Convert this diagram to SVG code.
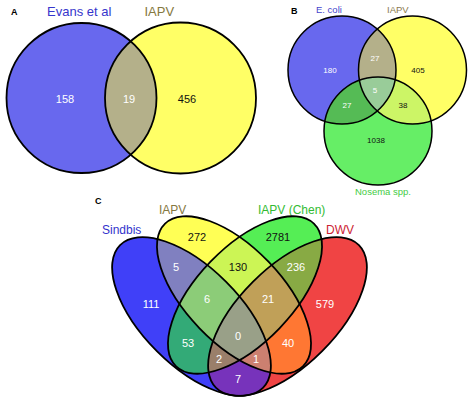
<svg xmlns="http://www.w3.org/2000/svg" xmlns:xlink="http://www.w3.org/1999/xlink" width="474" height="397" viewBox="0 0 474 397">
<style>
text{font-family:"Liberation Sans",Arial,sans-serif}
.pl{font-size:9px;font-weight:bold;fill:#000}
.lab{font-size:13px}
.labB{font-size:9.5px}
.labC{font-size:12px}
.nA{font-size:11px;text-anchor:middle}
.nB{font-size:8px;text-anchor:middle}
.nC{font-size:11px;text-anchor:middle}
.w{fill:#fff}
.k{fill:#111}
.ol{fill:none;stroke:#000;stroke-width:1.8}
.olB{fill:none;stroke:#000;stroke-width:1.5}
</style>
<defs>
<clipPath id="cA1"><circle cx="81.5" cy="98" r="75"/></clipPath>
<clipPath id="cB1"><circle cx="342" cy="70" r="54"/></clipPath>
<clipPath id="cB2"><circle cx="412.5" cy="70" r="54"/></clipPath>
<clipPath id="cB3"><circle cx="378" cy="131" r="54"/></clipPath>
<ellipse id="eS" cx="191.5" cy="316.5" rx="101" ry="49" transform="rotate(45 191.5 316.5)"/>
<ellipse id="eI" cx="234" cy="295" rx="99.2" ry="47.9" transform="rotate(46 234 295)"/>
<ellipse id="eC" cx="245" cy="295" rx="99.2" ry="47.9" transform="rotate(-46 245 295)"/>
<ellipse id="eD" cx="287.5" cy="316.5" rx="101" ry="49" transform="rotate(-45 287.5 316.5)"/>
<clipPath id="kS"><ellipse cx="191.5" cy="316.5" rx="101" ry="49" transform="rotate(45 191.5 316.5)"/></clipPath>
<clipPath id="kI"><ellipse cx="234" cy="295" rx="99.2" ry="47.9" transform="rotate(46 234 295)"/></clipPath>
<clipPath id="kC"><ellipse cx="245" cy="295" rx="99.2" ry="47.9" transform="rotate(-46 245 295)"/></clipPath>
<clipPath id="kD"><ellipse cx="287.5" cy="316.5" rx="101" ry="49" transform="rotate(-45 287.5 316.5)"/></clipPath>
</defs>
<rect width="474" height="397" fill="#fff"/>

<g id="panelA">
  <text class="pl" x="11" y="15">A</text>
  <g id="A-evans">
    <circle cx="81.5" cy="98" r="75" fill="#6868ee"/>
    <text class="lab" x="47" y="16" fill="#3636cc">Evans et al</text>
  </g>
  <g id="A-iapv">
    <circle cx="180.5" cy="98" r="75.5" fill="#ffff66"/>
    <circle cx="180.5" cy="98" r="75.5" fill="#b4b08a" clip-path="url(#cA1)"/>
    <text class="lab" x="144.5" y="16" fill="#857840">IAPV</text>
  </g>
  <circle class="ol" cx="81.5" cy="98" r="75"/>
  <circle class="ol" cx="180.5" cy="98" r="75.5"/>
  <text class="nA w" x="65" y="103">158</text>
  <text class="nA w" x="129" y="103">19</text>
  <text class="nA k" x="187" y="103">456</text>
</g>

<g id="panelB">
  <text class="pl" x="291" y="14">B</text>
  <g id="B-ecoli">
    <circle cx="342" cy="70" r="54" fill="#6868ee"/>
    <text class="labB" x="316" y="12.5" fill="#4444cc">E. coli</text>
  </g>
  <g id="B-iapv">
    <circle cx="412.5" cy="70" r="54" fill="#ffff66"/>
    <text class="labB" x="387" y="12.5" fill="#8a7a50">IAPV</text>
  </g>
  <g id="B-nosema">
    <circle cx="378" cy="131" r="54" fill="#66ee66"/>
    <text class="labB" x="355" y="195" fill="#44cc44">Nosema spp.</text>
  </g>
  <circle cx="412.5" cy="70" r="54" fill="#b4b08a" clip-path="url(#cB1)"/>
  <circle cx="378" cy="131" r="54" fill="#55bb55" clip-path="url(#cB1)"/>
  <circle cx="378" cy="131" r="54" fill="#ccf566" clip-path="url(#cB2)"/>
  <g clip-path="url(#cB1)"><circle cx="378" cy="131" r="54" fill="#99cc99" clip-path="url(#cB2)"/></g>
  <circle class="olB" cx="342" cy="70" r="54"/>
  <circle class="olB" cx="412.5" cy="70" r="54"/>
  <circle class="olB" cx="378" cy="131" r="54"/>
  <text class="nB w" x="330" y="73">180</text>
  <text class="nB w" x="375" y="61">27</text>
  <text class="nB k" x="418" y="73">405</text>
  <text class="nB w" x="375" y="93">5</text>
  <text class="nB w" x="347" y="108">27</text>
  <text class="nB k" x="403" y="108">38</text>
  <text class="nB k" x="376" y="143">1038</text>
</g>

<g id="panelC">
  <text class="pl" x="95" y="204">C</text>
  <g id="C-sindbis"><use xlink:href="#eS" fill="#4040f8"/><text class="labC" x="102" y="234" fill="#3333cc">Sindbis</text></g>
  <g id="C-iapv"><use xlink:href="#eI" fill="#ffff55"/><text class="labC" x="159" y="214" fill="#857840">IAPV</text></g>
  <g id="C-chen"><use xlink:href="#eC" fill="#55ee55"/><text class="labC" x="258" y="214" fill="#33bb33">IAPV (Chen)</text></g>
  <g id="C-dwv"><use xlink:href="#eD" fill="#f04444"/><text class="labC" x="326" y="234" fill="#cc2233">DWV</text></g>
  <g id="C-overlaps">
    <use xlink:href="#eI" fill="#8080c0" clip-path="url(#kS)"/>
    <use xlink:href="#eC" fill="#33aa77" clip-path="url(#kS)"/>
    <use xlink:href="#eD" fill="#7733bb" clip-path="url(#kS)"/>
    <use xlink:href="#eC" fill="#ccf555" clip-path="url(#kI)"/>
    <use xlink:href="#eD" fill="#ff7733" clip-path="url(#kI)"/>
    <use xlink:href="#eD" fill="#88aa44" clip-path="url(#kC)"/>
    <g clip-path="url(#kS)"><use xlink:href="#eC" fill="#8ccc78" clip-path="url(#kI)"/></g>
    <g clip-path="url(#kS)"><use xlink:href="#eD" fill="#cc8070" clip-path="url(#kI)"/></g>
    <g clip-path="url(#kS)"><use xlink:href="#eD" fill="#9a7f6a" clip-path="url(#kC)"/></g>
    <g clip-path="url(#kI)"><use xlink:href="#eD" fill="#c0a058" clip-path="url(#kC)"/></g>
    <g clip-path="url(#kS)"><g clip-path="url(#kI)"><use xlink:href="#eD" fill="#99a088" clip-path="url(#kC)"/></g></g>
  </g>
  <use xlink:href="#eS" class="ol"/>
  <use xlink:href="#eI" class="ol"/>
  <use xlink:href="#eC" class="ol"/>
  <use xlink:href="#eD" class="ol"/>
  <text class="nC k" x="197" y="241">272</text>
  <text class="nC k" x="278" y="241">2781</text>
  <text class="nC w" x="176" y="271">5</text>
  <text class="nC k" x="238" y="271">130</text>
  <text class="nC w" x="296" y="271">236</text>
  <text class="nC w" x="151" y="308">111</text>
  <text class="nC w" x="207" y="303">6</text>
  <text class="nC w" x="268" y="303">21</text>
  <text class="nC w" x="325" y="308">579</text>
  <text class="nC w" x="238" y="340">0</text>
  <text class="nC w" x="188" y="347">53</text>
  <text class="nC w" x="288" y="347">40</text>
  <text class="nC w" x="219" y="363">2</text>
  <text class="nC w" x="256" y="363">1</text>
  <text class="nC w" x="238" y="383">7</text>
</g>
</svg>
